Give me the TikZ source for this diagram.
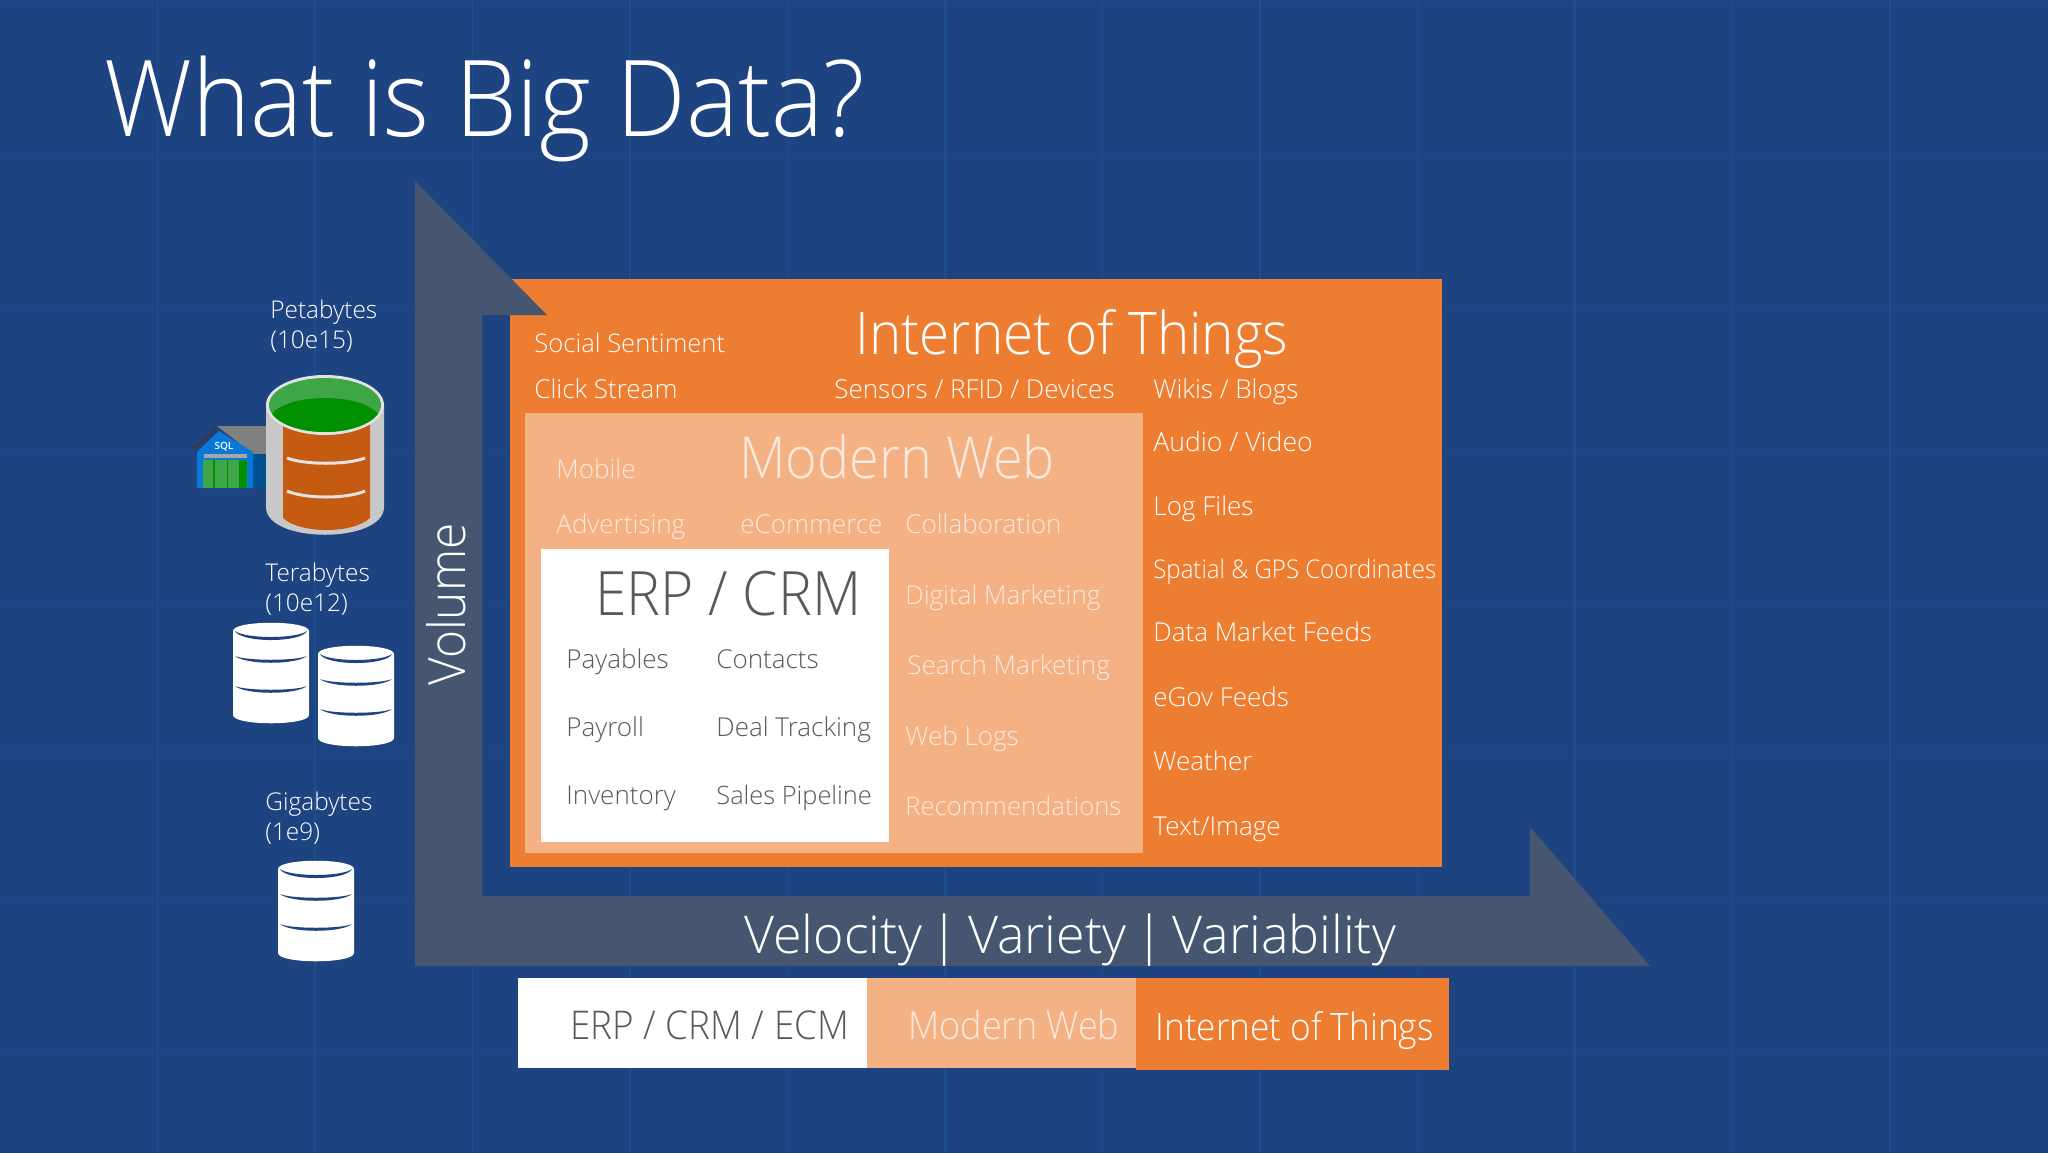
\documentclass[tikz,border=0pt]{standalone}
\usepackage{fontspec}
\setmainfont{Open Sans Light}
\newfontfamily\narrowfont[FakeStretch=0.93]{Open Sans Light}
\definecolor{bgblue}{HTML}{1D4381}
\definecolor{gridblue}{HTML}{1C4F8D}
\definecolor{gridfaint}{HTML}{1D4784}
\definecolor{arrowgrey}{HTML}{475670}
\definecolor{iotorange}{HTML}{ED7D31}
\definecolor{websalmon}{HTML}{F4B183}
\definecolor{websoft}{HTML}{FBE9DD}
\definecolor{erpgrey}{HTML}{595959}
\definecolor{rimgrey}{HTML}{C8C8C8}
\definecolor{rimlight}{HTML}{E2E2E2}
\definecolor{barrelorange}{HTML}{C55A11}
\definecolor{greenlight}{HTML}{3FA648}
\definecolor{greendark}{HTML}{009000}
\definecolor{sqlblue}{HTML}{0A78D7}
\definecolor{sqlside}{HTML}{00508F}
\tikzset{
  dbstack/.pic={
    \fill[white] (-38,8) .. controls (-38,-3) and (38,-3) .. (38,8)
      -- (38,92) .. controls (38,103) and (-38,103) .. (-38,92) -- cycle;
    \fill[bgblue] (-36,8) .. controls (-25,16) and (25,16) .. (36,8)
      .. controls (30,20) and (-30,20) .. cycle;
    \fill[bgblue] (-36,33) .. controls (-25,38) and (25,38) .. (36,33)
      .. controls (25,42) and (-25,42) .. cycle;
    \fill[bgblue] (-36,63) .. controls (-25,68) and (25,68) .. (36,63)
      .. controls (25,72) and (-25,72) .. cycle;
  }
}
\begin{document}
\begin{tikzpicture}[x=0.5pt, y=-0.5pt,
  every node/.style = {inner sep=0pt, anchor=base west, text=white},
  label/.style = {font=\fontsize{12.2}{15}\selectfont, align=left, anchor=north west},
  item/.style = {font=\fontsize{13}{16}\selectfont},
  itemdark/.style = {item, text=erpgrey},
  itemsoft/.style = {item, text=websoft},
  big/.style = {font=\fontsize{26}{30}\selectfont}]
  \useasboundingbox (0,0) rectangle (2048,1152);
  \fill[bgblue] (-2,-2) rectangle (2050,1154);
  % background
  \foreach \gridy in {7,156,305,454,603,752,901,1050}
    \draw[gridfaint, line width=0.8pt] (0,\gridy) -- (2048,\gridy);
  \foreach \gridx in {1,2,...,12}
    \draw[gridblue, line width=0.8pt] ({\gridx*157.5},0) -- ({\gridx*157.5},1152);

  \node[font=\narrowfont\fontsize{53}{60}\selectfont] (title) at (104,136) {What is Big Data?};

  % panels
  \fill[iotorange] (510,279) rectangle (1442,867);
  \fill[websalmon] (525,413) rectangle (1143,853);
  \fill[white] (541,549) rectangle (889,842);

  % axes
  \fill[arrowgrey] (415,181) -- (547,315) -- (482,315) -- (482,896) -- (1530,896)
    -- (1530,827) -- (1650,966) -- (415,966) -- cycle;
  \node[font=\narrowfont\fontsize{25.7}{30}\selectfont, rotate=90] (volume) at (465,686) {Volume};
  \node[big] (velocity) at (744,953) {\spaceskip=4.5pt Velocity | Variety | Variability};

  % internet of things
  \node[font=\narrowfont\fontsize{29.4}{34}\selectfont] (iot) at (855,354) {Internet of Things};
  \node[font=\fontsize{12.8}{16}\selectfont] (social) at (534,352) {Social Sentiment};
  \node[item] (click) at (534,398) {Click Stream};
  \node[item] (sensors) at (834,398) {Sensors / RFID / Devices};
  \node[item] (wikis) at (1153,398) {Wikis / Blogs};
  \node[font=\fontsize{13.3}{16}\selectfont] (audio) at (1153,451) {Audio / Video};
  \node[item] (logfiles) at (1153,515) {Log Files};
  \node[font=\narrowfont\fontsize{12.9}{16}\selectfont] (spatial) at (1153,578) {Spatial \& GPS Coordinates};
  \node[item] (market) at (1153,641) {Data Market Feeds};
  \node[item] (egov) at (1153,706) {eGov Feeds};
  \node[item] (weather) at (1153,770) {Weather};
  \node[item] (textimage) at (1153,835) {Text/Image};

  % modern web
  \node[font=\narrowfont\fontsize{29}{34}\selectfont, text=websoft] (web) at (739,478) {Modern Web};
  \node[itemsoft] (mobile) at (556,478) {Mobile};
  \node[itemsoft] (advert) at (556,533) {Advertising};
  \node[itemsoft] (ecomm) at (740,533) {eCommerce};
  \node[itemsoft] (collab) at (905,533) {Collaboration};
  \node[itemsoft] (digital) at (905,604) {Digital Marketing};
  \node[itemsoft] (search) at (907,674) {Search Marketing};
  \node[itemsoft] (weblogs) at (905,745) {Web Logs};
  \node[font=\fontsize{12.8}{16}\selectfont, text=websoft] (recomm) at (905,815) {Recommendations};

  % erp
  \node[font=\narrowfont\fontsize{30.6}{34}\selectfont, text=erpgrey] (erp) at (595,615) {ERP / CRM};
  \node[itemdark] (payables) at (566,668) {Payables};
  \node[itemdark] (contacts) at (716,668) {Contacts};
  \node[itemdark] (payroll) at (566,736) {Payroll};
  \node[itemdark] (deal) at (716,736) {Deal Tracking};
  \node[itemdark] (inventory) at (566,804) {Inventory};
  \node[font=\fontsize{12.7}{16}\selectfont, text=erpgrey] (sales) at (716,804) {Sales Pipeline};

  % bottom bar
  \fill[white] (518,978) rectangle (867,1068);
  \fill[websalmon] (867,978) rectangle (1136,1068);
  \fill[iotorange] (1136,978) rectangle (1449,1070);
  \node[font=\narrowfont\fontsize{19.8}{24}\selectfont, text=erpgrey] (barerp) at (570,1039) {ERP / CRM / ECM};
  \node[font=\narrowfont\fontsize{19.4}{24}\selectfont, text=websoft] (barweb) at (908,1039) {Modern Web};
  \node[font=\narrowfont\fontsize{18.9}{24}\selectfont] (bariot) at (1155,1040) {Internet of Things};

  % volume labels
  \node[label] (peta) at (270,300) {Petabytes\\(10e15)};
  \node[label] (tera) at (265,563) {Terabytes\\(10e12)};
  \node[label] (giga) at (265,792) {Gigabytes\\(1e9)};

  % sql store
  \fill[gray] (217,426) -- (266,426) -- (266,454) -- (253,454) -- cycle;
  \fill[sqlside] (253,454) rectangle (266,488);
  \fill[sqlblue] (197,488) -- (197,452) -- (219,431) -- (253,452) -- (253,488) -- cycle;
  \draw[arrowgrey!70!black, line width=1.5pt] (193,449) -- (217,428);
  \fill[gray!70] (204,454) rectangle (247,458);
  \fill[greendark] (203,460) rectangle (247,488);
  \fill[greenlight] (203,460) rectangle (213,488);
  \fill[greenlight] (215,460) rectangle (227,488);
  \fill[greenlight] (228,460) rectangle (239,488);
  \node[font=\fontsize{5}{6}\bfseries, anchor=center] (sql) at (224,447) {SQL};

  % petabyte barrel
  \fill[rimgrey] (266,405) -- (266,507) .. controls (266,544) and (384,544) .. (384,507) -- (384,405) -- cycle;
  \fill[barrelorange] (283,420) -- (283,518) .. controls (300,534) and (353,534) .. (370,518) -- (370,420) -- cycle;
  \draw[rimlight, line width=1.5pt] (287,458) .. controls (305,465) and (347,465) .. (365,458);
  \draw[rimlight, line width=1.5pt] (287,491) .. controls (305,499) and (347,499) .. (365,491);
  \fill[rimlight] (325,405) ellipse [x radius=59, y radius=30];
  \fill[greenlight] (325,405) ellipse [x radius=56, y radius=27];
  \begin{scope}
    \clip (325,405) ellipse [x radius=56, y radius=27];
    \fill[greendark] (325,420) ellipse [x radius=55, y radius=22];
  \end{scope}

  % database stacks
  \pic at (271,623) {dbstack};
  \pic at (356,646) {dbstack};
  \pic at (316,861) {dbstack};
\end{tikzpicture}
\end{document}
